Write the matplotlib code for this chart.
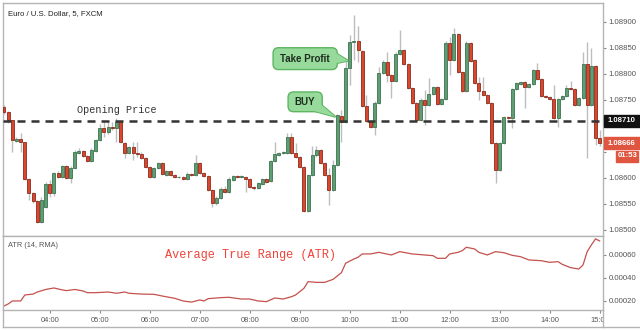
import matplotlib
matplotlib.use("Agg")
import matplotlib.pyplot as plt
import pandas as pd
from matplotlib.patches import Rectangle, FancyBboxPatch, Polygon
from matplotlib.lines import Line2D

# EUR/USD 5-minute bars, first bar at 03:05
start_time = "03:05"
bar_minutes = 5

opens = [1.08736, 1.08727, 1.08711, 1.08671, 1.08675, 1.08669, 1.08598, 1.08571,
         1.08556, 1.08515, 1.08544, 1.08588, 1.08571, 1.08609, 1.08602, 1.08623,
         1.08600, 1.08619, 1.08648, 1.08652, 1.08642, 1.08632, 1.08652, 1.08673,
         1.08696, 1.08688, 1.08698, 1.08696, 1.08707, 1.08667, 1.08648, 1.08659,
         1.08648, 1.08646, 1.08638, 1.08621, 1.08602, 1.08619, 1.08629, 1.08606,
         1.08613, 1.08606, 1.08602, 1.08602, 1.08598, 1.08607, 1.08606, 1.08629,
         1.08609, 1.08604, 1.08577, 1.08552, 1.08561, 1.08579, 1.08573, 1.08596,
         1.08604, 1.08602, 1.08602, 1.08598, 1.08582, 1.08581, 1.08588, 1.08598,
         1.08594, 1.08632, 1.08644, 1.08648, 1.08648, 1.08679, 1.08648, 1.08640,
         1.08621, 1.08536, 1.08606, 1.08644, 1.08654, 1.08629, 1.08606, 1.08577,
         1.08625, 1.08719, 1.08707, 1.08811, 1.08861, 1.08863, 1.08844, 1.08738,
         1.08709, 1.08698, 1.08744, 1.08802, 1.08823, 1.08798, 1.08786, 1.08838,
         1.08846, 1.08819, 1.08773, 1.08744, 1.08711, 1.08750, 1.08740, 1.08761,
         1.08775, 1.08742, 1.08752, 1.08859, 1.08827, 1.08877, 1.08804, 1.08767,
         1.08859, 1.08827, 1.08782, 1.08767, 1.08759, 1.08744, 1.08667, 1.08615,
         1.08667, 1.08717, 1.08715, 1.08771, 1.08781, 1.08784, 1.08775, 1.08781,
         1.08807, 1.08790, 1.08757, 1.08756, 1.08752, 1.08715, 1.08752, 1.08757,
         1.08773, 1.08771, 1.08740, 1.08754, 1.08819, 1.08740, 1.08815, 1.08677]

highs = [1.08740, 1.08729, 1.08711, 1.08679, 1.08686, 1.08669, 1.08600, 1.08573,
         1.08557, 1.08563, 1.08592, 1.08596, 1.08611, 1.08613, 1.08625, 1.08625,
         1.08623, 1.08654, 1.08657, 1.08654, 1.08644, 1.08657, 1.08675, 1.08704,
         1.08707, 1.08709, 1.08707, 1.08715, 1.08709, 1.08669, 1.08661, 1.08669,
         1.08669, 1.08650, 1.08640, 1.08623, 1.08621, 1.08631, 1.08631, 1.08615,
         1.08615, 1.08607, 1.08604, 1.08604, 1.08611, 1.08609, 1.08644, 1.08631,
         1.08611, 1.08606, 1.08579, 1.08565, 1.08582, 1.08584, 1.08602, 1.08606,
         1.08606, 1.08606, 1.08604, 1.08600, 1.08584, 1.08592, 1.08600, 1.08600,
         1.08634, 1.08669, 1.08650, 1.08652, 1.08686, 1.08686, 1.08667, 1.08642,
         1.08623, 1.08607, 1.08661, 1.08661, 1.08656, 1.08631, 1.08619, 1.08634,
         1.08723, 1.08731, 1.08827, 1.08875, 1.08913, 1.08892, 1.08846, 1.08759,
         1.08711, 1.08748, 1.08813, 1.08827, 1.08842, 1.08800, 1.08842, 1.08884,
         1.08848, 1.08821, 1.08775, 1.08746, 1.08754, 1.08769, 1.08792, 1.08777,
         1.08777, 1.08754, 1.08863, 1.08871, 1.08888, 1.08878, 1.08806, 1.08863,
         1.08861, 1.08829, 1.08794, 1.08794, 1.08761, 1.08746, 1.08669, 1.08669,
         1.08719, 1.08719, 1.08773, 1.08784, 1.08786, 1.08786, 1.08782, 1.08809,
         1.08821, 1.08792, 1.08759, 1.08757, 1.08779, 1.08754, 1.08759, 1.08779,
         1.08786, 1.08773, 1.08756, 1.08842, 1.08861, 1.08850, 1.08817, 1.08692]

lows = [1.08723, 1.08705, 1.08650, 1.08669, 1.08650, 1.08596, 1.08557, 1.08552,
        1.08513, 1.08513, 1.08542, 1.08563, 1.08565, 1.08600, 1.08600, 1.08598,
        1.08590, 1.08617, 1.08646, 1.08640, 1.08631, 1.08631, 1.08650, 1.08671,
        1.08679, 1.08684, 1.08692, 1.08669, 1.08667, 1.08638, 1.08646, 1.08634,
        1.08640, 1.08636, 1.08619, 1.08600, 1.08600, 1.08617, 1.08606, 1.08604,
        1.08604, 1.08600, 1.08600, 1.08596, 1.08596, 1.08604, 1.08604, 1.08607,
        1.08602, 1.08575, 1.08544, 1.08548, 1.08559, 1.08571, 1.08571, 1.08594,
        1.08600, 1.08600, 1.08573, 1.08581, 1.08577, 1.08579, 1.08586, 1.08590,
        1.08592, 1.08631, 1.08642, 1.08646, 1.08646, 1.08646, 1.08638, 1.08619,
        1.08534, 1.08534, 1.08604, 1.08640, 1.08627, 1.08604, 1.08548, 1.08575,
        1.08623, 1.08669, 1.08705, 1.08779, 1.08827, 1.08823, 1.08736, 1.08707,
        1.08696, 1.08682, 1.08742, 1.08800, 1.08784, 1.08754, 1.08784, 1.08836,
        1.08817, 1.08771, 1.08742, 1.08709, 1.08709, 1.08702, 1.08738, 1.08759,
        1.08740, 1.08740, 1.08750, 1.08798, 1.08825, 1.08802, 1.08765, 1.08765,
        1.08823, 1.08781, 1.08750, 1.08757, 1.08742, 1.08665, 1.08590, 1.08613,
        1.08665, 1.08713, 1.08696, 1.08769, 1.08779, 1.08734, 1.08773, 1.08779,
        1.08788, 1.08756, 1.08754, 1.08750, 1.08713, 1.08698, 1.08750, 1.08756,
        1.08769, 1.08738, 1.08738, 1.08752, 1.08638, 1.08738, 1.08663, 1.08661]

closes = [1.08727, 1.08711, 1.08673, 1.08675, 1.08669, 1.08598, 1.08571, 1.08556,
          1.08515, 1.08557, 1.08588, 1.08571, 1.08609, 1.08602, 1.08623, 1.08600,
          1.08619, 1.08650, 1.08652, 1.08642, 1.08632, 1.08654, 1.08673, 1.08696,
          1.08688, 1.08698, 1.08696, 1.08707, 1.08669, 1.08648, 1.08659, 1.08648,
          1.08646, 1.08638, 1.08621, 1.08602, 1.08619, 1.08629, 1.08607, 1.08613,
          1.08606, 1.08602, 1.08602, 1.08598, 1.08607, 1.08605, 1.08629, 1.08609,
          1.08604, 1.08577, 1.08552, 1.08561, 1.08579, 1.08573, 1.08598, 1.08604,
          1.08602, 1.08604, 1.08598, 1.08582, 1.08580, 1.08590, 1.08598, 1.08592,
          1.08632, 1.08646, 1.08648, 1.08650, 1.08679, 1.08648, 1.08640, 1.08621,
          1.08536, 1.08606, 1.08644, 1.08654, 1.08629, 1.08606, 1.08577, 1.08625,
          1.08721, 1.08707, 1.08811, 1.08861, 1.08863, 1.08846, 1.08738, 1.08709,
          1.08698, 1.08744, 1.08802, 1.08823, 1.08798, 1.08786, 1.08838, 1.08846,
          1.08819, 1.08773, 1.08744, 1.08711, 1.08750, 1.08740, 1.08761, 1.08775,
          1.08742, 1.08752, 1.08859, 1.08827, 1.08877, 1.08804, 1.08767, 1.08859,
          1.08825, 1.08782, 1.08767, 1.08759, 1.08744, 1.08667, 1.08615, 1.08667,
          1.08717, 1.08715, 1.08771, 1.08782, 1.08784, 1.08775, 1.08781, 1.08807,
          1.08790, 1.08757, 1.08755, 1.08752, 1.08715, 1.08752, 1.08757, 1.08773,
          1.08771, 1.08740, 1.08754, 1.08819, 1.08740, 1.08815, 1.08677, 1.08666]

# ATR(14, RMA) readings: bar index -> value
atr_idx = [0, 1, 2, 4, 5, 7, 8, 10, 12, 14, 15, 17, 19, 20, 22, 25, 27, 29, 30, 33,
           36, 38, 41, 43, 45, 47, 48, 49, 52, 54, 57, 59, 61, 63, 65, 67, 69, 70,
           72, 73, 75, 77, 79, 81, 82, 84, 85, 86, 88, 90, 93, 95, 98, 101, 103,
           104, 106, 107, 109, 110, 111, 113, 114, 116, 118, 120, 122, 124, 126,
           129, 131, 133, 134, 136, 138, 139, 140, 141, 142, 143]
atr_vals = [0.000156, 0.000174, 0.000200, 0.000200, 0.000252, 0.000260, 0.000278,
            0.000300, 0.000313, 0.000296, 0.000290, 0.000300, 0.000287, 0.000272,
            0.000272, 0.000278, 0.000267, 0.000278, 0.000267, 0.000260, 0.000258,
            0.000243, 0.000223, 0.000200, 0.000190, 0.000209, 0.000200, 0.000220,
            0.000229, 0.000232, 0.000217, 0.000217, 0.000200, 0.000194, 0.000226,
            0.000217, 0.000237, 0.000252, 0.000310, 0.000368, 0.000362, 0.000362,
            0.000388, 0.000446, 0.000528, 0.000565, 0.000580, 0.000609, 0.000609,
            0.000623, 0.000600, 0.000629, 0.000609, 0.000600, 0.000594, 0.000571,
            0.000571, 0.000609, 0.000623, 0.000637, 0.000667, 0.000652, 0.000623,
            0.000600, 0.000629, 0.000620, 0.000597, 0.000585, 0.000557, 0.000550,
            0.000536, 0.000542, 0.000519, 0.000490, 0.000478, 0.000513, 0.000629,
            0.000687, 0.000740, 0.000722]

opening_price = 1.08710
countdown = "01:53"
buy_bar = 80
tp_bar = 82

UP, UP_EDGE = "#5e9e72", "#3c7350"
DOWN, DOWN_EDGE = "#d9472f", "#8e2a1b"
WICK = "#bdbdbd"
FRAME = "#b4b4b4"
LABEL = "#555555"
UI_FONT = "Liberation Sans"
MONO = "Liberation Mono"

W, H = 640, 330
fig = plt.figure(figsize=(W / 100, H / 100), dpi=100)
ax = fig.add_axes([3 / W, 1 - 236 / H, 600 / W, 233 / H])
ax2 = fig.add_axes([3 / W, 1 - 310 / H, 600 / W, 74 / H], sharex=ax)

n = len(closes)
x = list(range(n))

# candles
ax.vlines(x, lows, highs, color=WICK, lw=1.0, zorder=2)
for i in x:
    o, c = opens[i], closes[i]
    up = c >= o
    ax.bar(i, abs(c - o), bottom=min(o, c), width=0.72,
           color=UP if up else DOWN, edgecolor=UP_EDGE if up else DOWN_EDGE,
           linewidth=0.6, zorder=3)

# opening price level
ax.axhline(opening_price, color="#333333", lw=1.8, ls=(0, (3.2, 2.4)), zorder=4)
ax.text(27, opening_price + 0.00021, "Opening Price", family=MONO, fontsize=7.3,
        color="#333333", ha="center", va="center", zorder=5)

ax.set_xlim(-0.24, 143.8)
ax.set_ylim(1.08488, 1.08936)

# the 1.08700 / 1.08650 marks sit under the price tags
price_ticks = [1.085 + 0.0005 * k for k in range(9)]
covered = (1.08700, 1.08650)
ax.yaxis.tick_right()
ax.set_yticks(price_ticks)
ax.set_yticklabels(["" if any(abs(p - c) < 1e-7 for c in covered) else f"{p:.5f}"
                    for p in price_ticks])
ax.tick_params(axis="y", labelsize=5.6, colors=LABEL, length=2, pad=2,
               labelfontfamily=UI_FONT)
ax.tick_params(axis="y", color="#888888")
ax.tick_params(axis="x", bottom=False, labelbottom=False)
for sp in ax.spines.values():
    sp.set_color(FRAME)
    sp.set_linewidth(1.0)

# price tags on the scale
ytf = ax.get_yaxis_transform()
tag_h = 0.00023
ax.add_patch(Rectangle((1.002, opening_price - tag_h / 2), 0.07, tag_h,
                       transform=ytf, color="#111111", clip_on=False, zorder=10))
ax.text(1.008, opening_price, f"{opening_price:.5f}", transform=ytf, color="white",
        fontsize=5.6, fontweight="bold", family=UI_FONT, va="center", zorder=11)
last = closes[-1]
ax.add_patch(Rectangle((1.002, last - tag_h / 2), 0.07, tag_h,
                       transform=ytf, color="#e0553f", clip_on=False, zorder=10))
ax.text(1.008, last, f"{last:.5f}", transform=ytf, color="white",
        fontsize=5.6, fontweight="bold", family=UI_FONT, va="center", zorder=11)
cd_y = last - 0.00024
ax.add_patch(Rectangle((1.022, cd_y - 0.00011), 0.037, 0.00021,
                       transform=ytf, color="#e0553f", clip_on=False, zorder=10))
ax.text(1.0405, cd_y, countdown, transform=ytf, color="white", fontsize=5.6,
        fontweight="bold", family=UI_FONT, ha="center", va="center", zorder=11)


def callout(x0, x1, y0, y1, pointer, text):
    # rounded label box with a speech-bubble pointer
    aspect = (ax.get_ylim()[1] - ax.get_ylim()[0]) / 233 / ((143.8 + 0.24) / 600)
    fc, ec = "#97da9c", "#5db562"
    ax.add_patch(Polygon(pointer, closed=True, fc=fc, ec=ec, lw=1.4, zorder=6))
    ax.add_patch(FancyBboxPatch((x0, y0), x1 - x0, y1 - y0,
                                boxstyle="round,pad=0,rounding_size=1.3",
                                mutation_aspect=aspect, fc=fc, ec=ec, lw=1.0, zorder=7))
    ax.add_patch(Polygon(pointer, closed=True, fc=fc, ec="none", zorder=8))
    ax.text((x0 + x1) / 2, (y0 + y1) / 2, text, ha="center", va="center",
            fontsize=7.0, fontweight="bold", color="#1f2f1f", family=UI_FONT, zorder=9)


callout(64.6, 80.0, 1.08808, 1.08850,
        [(79.6, 1.08840), (tp_bar + 0.6, highs[tp_bar] - 0.00002), (79.6, 1.08820)],
        "Take Profit")
callout(68.2, 76.4, 1.08727, 1.08765,
        [(74.2, 1.08729), (buy_bar - 0.4, closes[buy_bar] - 0.00004), (76.2, 1.08740)],
        "BUY")

fig.text(8 / W, 1 - 14 / H, "Euro / U.S. Dollar, 5, FXCM", fontsize=5.6,
         color="#222222", family=UI_FONT, va="center")

# ATR panel
ax2.plot(atr_idx, atr_vals, color="#c4514d", lw=0.9)
ax2.set_ylim(0.0001215, 0.000765)
ax2.yaxis.tick_right()
atr_ticks = [0.0002, 0.0004, 0.0006]
ax2.set_yticks(atr_ticks)
ax2.set_yticklabels([f"{v:.5f}" for v in atr_ticks])
ax2.tick_params(axis="y", labelsize=5.6, colors=LABEL, length=2, pad=2,
                labelfontfamily=UI_FONT)
ax2.tick_params(axis="y", color="#888888")

times = pd.date_range(f"2019-01-01 {start_time}", periods=n, freq=f"{bar_minutes}min")
hour_idx = [i for i, t in enumerate(times) if t.minute == 0]
hour_labels = [times[i].strftime("%H:%M") for i in hour_idx]
ax2.set_xticks(hour_idx)
ax2.set_xticklabels(hour_labels)
ax2.tick_params(axis="x", labelsize=5.4, colors=LABEL, length=2, pad=3,
                labelfontfamily=UI_FONT)
ax2.tick_params(axis="x", color="#888888")
for sp in ax2.spines.values():
    sp.set_color(FRAME)
    sp.set_linewidth(1.0)

ax2.text(0.008, 0.865, "ATR (14, RMA)", transform=ax2.transAxes, fontsize=5.3,
         color=LABEL, family=UI_FONT, va="center")
ax2.text(0.413, 0.74, "Average True Range (ATR)", transform=ax2.transAxes,
         fontsize=8.6, color="#f0433a", family=MONO, ha="center", va="center")

# time-scale strip: hide what runs past the price scale, then frame it
fig.patches.append(Rectangle((603.5 / W, 1 - 327 / H), 40 / W, 16 / H,
                             transform=fig.transFigure, color="white", zorder=1))
for xs, ys in [((3 / W, 3 / W), (1 - 310 / H, 1 - 327 / H)),
               ((3 / W, 1.0), (1 - 327 / H, 1 - 327 / H)),
               ((603 / W, 603 / W), (1 - 310 / H, 1 - 327 / H))]:
    fig.lines.append(Line2D(xs, ys, transform=fig.transFigure, color=FRAME, lw=1.0,
                            zorder=2))

fig.savefig("out.png", dpi=100, facecolor="white")
